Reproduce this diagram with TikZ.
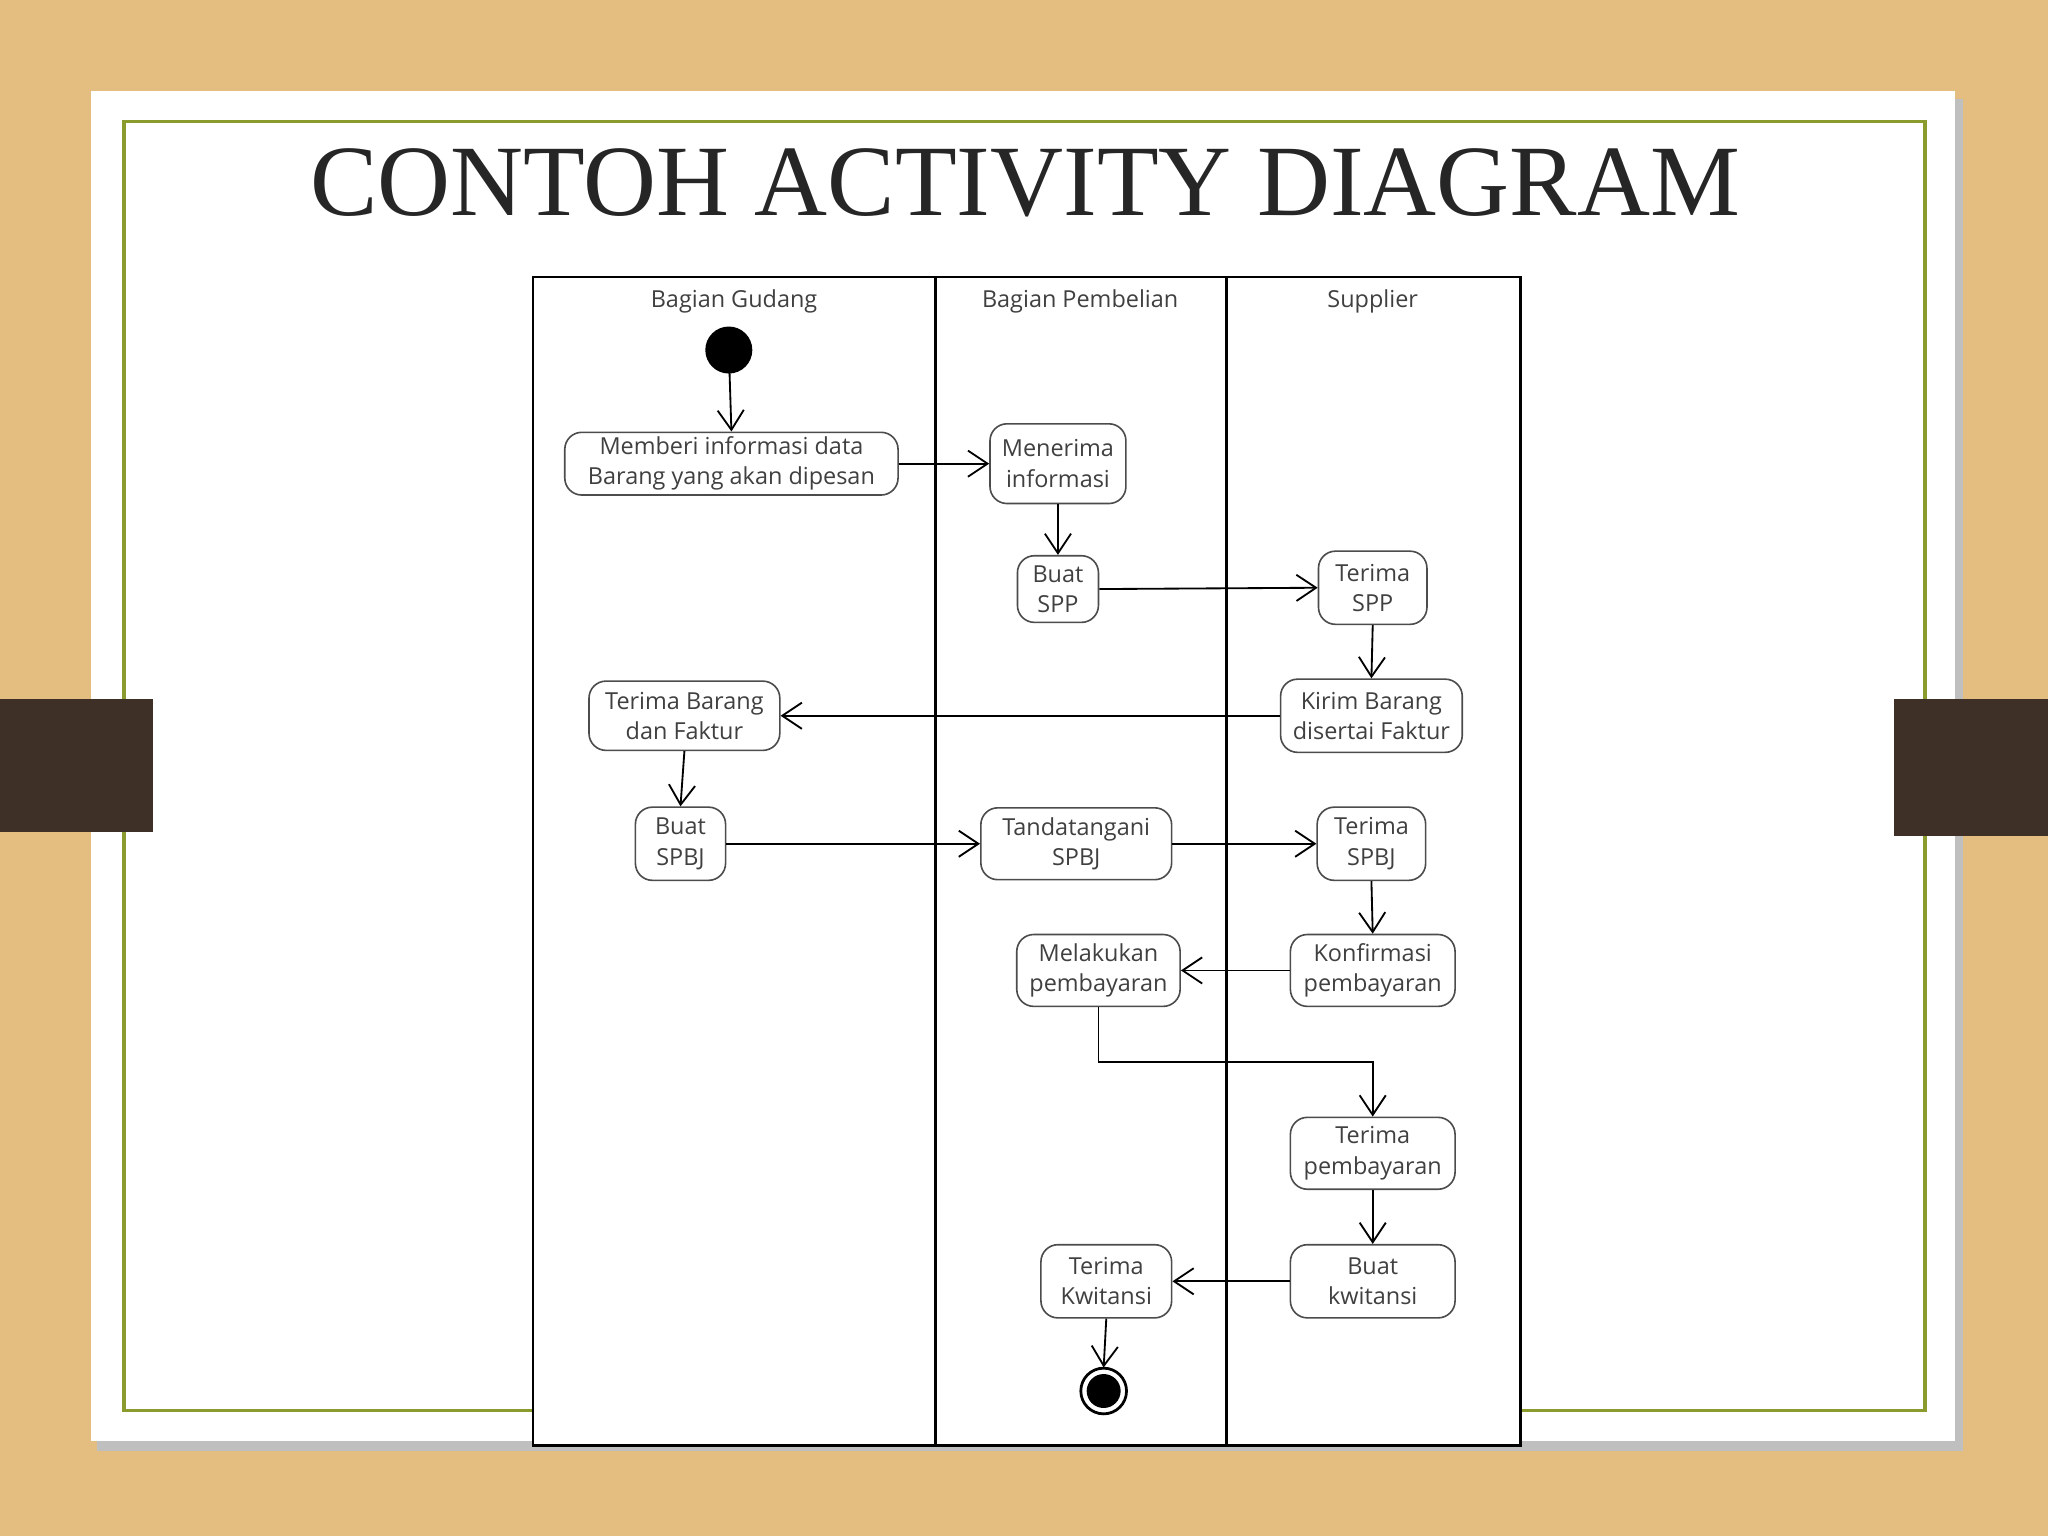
\documentclass[tikz,border=0pt]{standalone}
\usepackage{fontspec}
\setmainfont{Open Sans}
\newfontfamily\titlefont{Liberation Serif}
\usetikzlibrary{arrows.meta}
\definecolor{wood}{RGB}{228,190,128}
\definecolor{olive}{RGB}{140,155,45}
\definecolor{tab}{RGB}{62,48,38}
\tikzset{
  act/.style={draw=black!70, line width=0.35pt, rounded corners=0.13cm, align=center, font=\fontsize{5.1pt}{6.6pt}\selectfont\color{black!75}, inner sep=0pt},
  arr/.style={-{Straight Barb[length=0.15cm,width=0.2cm]}, line width=0.4pt},
  lane/.style={font=\fontsize{5.1pt}{6pt}\selectfont\color{black!75}}
}
\begin{document}
\begin{tikzpicture}[x=0.01cm,y=-0.01cm]
\fill[wood] (0,0) rectangle (1568,1176);
\useasboundingbox (0,0) rectangle (1568,1176);
\fill[black!25] (74,76) rectangle (1503,1111);
\fill[white] (70,70) rectangle (1497,1103);
\draw[olive, line width=0.8pt] (95,93) rectangle (1474,1080);
\fill[tab] (0,535) rectangle (117,637);
\fill[tab] (1450,535) rectangle (1568,640);
\node[font=\titlefont\fontsize{22pt}{25pt}\selectfont, text=black!85] (title) at (785,140) {CONTOH ACTIVITY DIAGRAM};
% swimlanes
\draw[fill=white, line width=0.6pt] (408,212) rectangle (1164,1107);
\draw[line width=0.6pt] (716,212) -- (716,1107);
\draw[line width=0.6pt] (939,212) -- (939,1107);
\node[lane] (l1) at (562,231) {Bagian Gudang};
\node[lane] (l2) at (827,231) {Bagian Pembelian};
\node[lane] (l3) at (1051,231) {Supplier};
% nodes
\fill (558,268) circle (18) coordinate (start);
\node[act, minimum width=2.55cm, minimum height=0.48cm] (a1) at (560,355) {Memberi informasi data\\Barang yang akan dipesan};
\node[act, minimum width=1.04cm, minimum height=0.61cm] (a2) at (810,355) {Menerima\\informasi};
\node[act, minimum width=0.62cm, minimum height=0.51cm] (a3) at (810,451) {Buat\\SPP};
\node[act, minimum width=0.83cm, minimum height=0.56cm] (a4) at (1051,450) {Terima\\SPP};
\node[act, minimum width=1.39cm, minimum height=0.56cm] (a5) at (1050,548) {Kirim Barang\\disertai Faktur};
\node[act, minimum width=1.46cm, minimum height=0.53cm] (a6) at (524,548) {Terima Barang\\dan Faktur};
\node[act, minimum width=0.69cm, minimum height=0.56cm] (a7) at (521,646) {Buat\\SPBJ};
\node[act, minimum width=1.46cm, minimum height=0.55cm] (a8) at (824,646) {Tandatangani\\SPBJ};
\node[act, minimum width=0.83cm, minimum height=0.56cm] (a9) at (1050,646) {Terima\\SPBJ};
\node[act, minimum width=1.25cm, minimum height=0.55cm] (a10) at (841,743) {Melakukan\\pembayaran};
\node[act, minimum width=1.26cm, minimum height=0.55cm] (a11) at (1051,743) {Konfirmasi\\pembayaran};
\node[act, minimum width=1.26cm, minimum height=0.55cm] (a12) at (1051,883) {Terima\\pembayaran};
\node[act, minimum width=1.26cm, minimum height=0.56cm] (a13) at (1051,981) {Buat\\kwitansi};
\node[act, minimum width=1.00cm, minimum height=0.56cm] (a14) at (847,981) {Terima\\Kwitansi};
\fill (845,1065) circle (13);
\draw[line width=0.6pt] (845,1065) circle (17.5);
\coordinate (end) at (845,1047);
% edges
\draw[arr] (start) -- (a1.north);
\draw[arr] (a1.east) -- (a2.west);
\draw[arr] (a2.south) -- (a3.north);
\draw[arr] (a3.east) -- (a4.west);
\draw[arr] (a4.south) -- (a5.north);
\draw[arr] (a5.west) -- (a6.east);
\draw[arr] (a6.south) -- (a7.north);
\draw[arr] (a7.east) -- (a8.west);
\draw[arr] (a8.east) -- (a9.west);
\draw[arr] (a9.south) -- (a11.north);
\draw[arr] (a11.west) -- (a10.east);
\draw[arr] (a10.south) |- (946,813) -| (a12.north);
\draw[arr] (a12.south) -- (a13.north);
\draw[arr] (a13.west) -- (a14.east);
\draw[arr] (a14.south) -- (end);
\end{tikzpicture}
\end{document}
